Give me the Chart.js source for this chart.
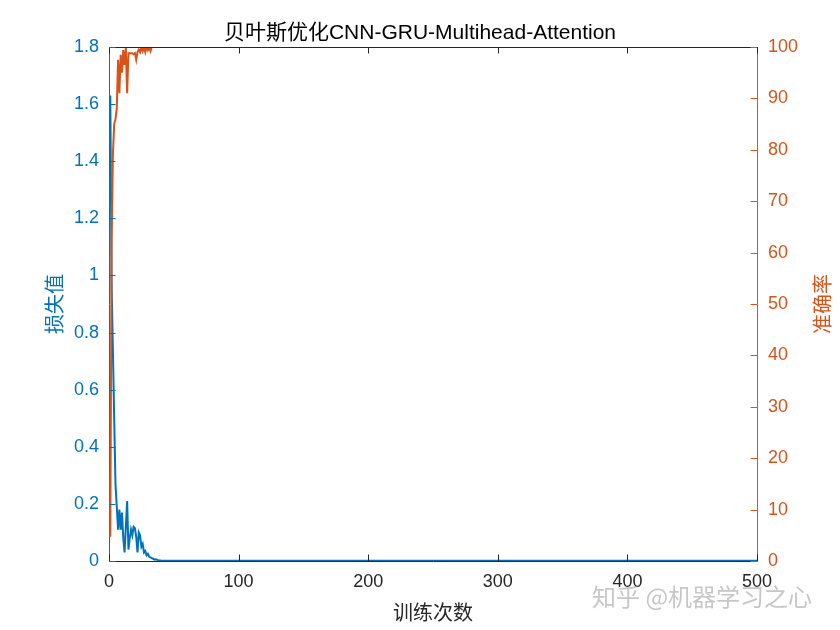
<!DOCTYPE html>
<html><head><meta charset="utf-8">
<script src="https://cdn.jsdelivr.net/npm/chart.js@4.4.0/dist/chart.umd.min.js"></script>
<style>html,body{margin:0;padding:0;background:#fff;}canvas{display:block;}</style>
</head><body>
<canvas id="c" width="840" height="630"></canvas>
<script>
// ---- data ----
const lossIter   = [1,2,3,4,5,6,7,8,9,10,11,12,13,14,15,16,17,18,19,20,21,22,23,24,25,26,27,28,29,30,31,32,33,34,35,36,38,40,45,60,500];
const lossValues = [1.63,0.97,0.74,0.5,0.27,0.19,0.11,0.18,0.11,0.17,0.08,0.03,0.12,0.21,0.04,0.08,0.11,0.09,0.12,0.115,0.085,0.03,0.1,0.09,0.05,0.06,0.03,0.035,0.02,0.025,0.015,0.013,0.01,0.008,0.005,0.006,0.003,0.002,0.001,0.0007,0.0005];
const accIter    = [1,2,3,4,5,6,7,8,9,10,11,12,13,14,15,16,17,18,19,20,21,22,23,24,25,26,27,28,29,30,31,32,33,34,500];
const accValues  = [4.7,62,79,85,86,88,97.5,91,98.5,95,99.4,96.5,99.8,91,98.8,98.8,98.8,98.8,98.6,98.8,97.5,99,99.5,99,100,99.2,100,99,100,99.4,100,99.2,100,100,100];
const xTicks    = [0,100,200,300,400,500];
const lossTicks = [0,0.2,0.4,0.6,0.8,1,1.2,1.4,1.6,1.8];
const accTicks  = [0,10,20,30,40,50,60,70,80,90,100];
const titleText = '贝叶斯优化CNN-GRU-Multihead-Attention';
const xLabel = '训练次数', lossLabel = '损失值', accLabel = '准确率';
const watermark = '知乎 @机器学习之心';

const BLUE = '#0072BD', ORANGE = '#D95319', DARK = '#262626';
const LATIN = "'Liberation Sans', Arial, sans-serif";
const MIX = "'Liberation Sans', 'Noto Sans CJK SC', sans-serif";
const CJK = "'Noto Sans CJK SC', sans-serif";

const decor = {
  id: 'decor',
  afterDraw(chart) {
    const {ctx, chartArea: a, scales} = chart;
    const L = 6.5;
    ctx.save();
    ctx.lineWidth = 1;
    ctx.strokeStyle = DARK;
    ctx.beginPath();
    ctx.moveTo(a.left, Math.round(a.top) + 0.5); ctx.lineTo(a.right, Math.round(a.top) + 0.5);
    xTicks.forEach(v => {
      const p = Math.round(scales.x.getPixelForValue(v)) + 0.5;
      ctx.moveTo(p, a.bottom); ctx.lineTo(p, a.bottom - L);
      ctx.moveTo(p, a.top); ctx.lineTo(p, a.top + L);
    });
    ctx.stroke();
    ctx.strokeStyle = BLUE;
    ctx.beginPath();
    lossTicks.forEach(v => {
      const p = Math.round(scales.y.getPixelForValue(v)) + 0.5;
      ctx.moveTo(a.left, p); ctx.lineTo(a.left + L, p);
    });
    ctx.stroke();
    ctx.strokeStyle = ORANGE;
    ctx.beginPath();
    accTicks.forEach(v => {
      const p = Math.round(scales.y1.getPixelForValue(v)) + 0.5;
      ctx.moveTo(a.right, p); ctx.lineTo(a.right - L, p);
    });
    ctx.stroke();
    // right axis label (reads bottom to top)
    ctx.save();
    ctx.translate(822, (a.top + a.bottom) / 2);
    ctx.rotate(-Math.PI / 2);
    ctx.fillStyle = ORANGE;
    ctx.font = "20px " + CJK;
    ctx.textAlign = 'center'; ctx.textBaseline = 'middle';
    ctx.fillText(accLabel, 0, 0);
    ctx.restore();
    // watermark
    ctx.fillStyle = 'rgba(175,175,175,0.7)';
    ctx.font = "24px " + CJK;
    ctx.textAlign = 'left'; ctx.textBaseline = 'middle';
    ctx.fillText(watermark, 592, 597);
    ctx.restore();
  }
};

function setTicks(arr) {
  return scale => { scale.ticks = arr.map(v => ({value: v})); };
}
const plainLabel = v => String(v);

new Chart(document.getElementById('c'), {
  type: 'line',
  data: {
    datasets: [
      {
        label: accLabel, yAxisID: 'y1',
        data: accIter.map((x, i) => ({x, y: accValues[i]})),
        borderColor: ORANGE, borderWidth: 2, pointRadius: 0, tension: 0, fill: false
      },
      {
        label: lossLabel, yAxisID: 'y',
        data: lossIter.map((x, i) => ({x, y: lossValues[i]})),
        borderColor: BLUE, borderWidth: 2, pointRadius: 0, tension: 0, fill: false
      }
    ]
  },
  options: {
    responsive: false,
    animation: false,
    layout: {padding: 0},
    plugins: {
      legend: {display: false},
      tooltip: {enabled: false},
      title: {
        display: true, text: titleText, color: '#000',
        font: {family: MIX, size: 21, weight: 'normal', lineHeight: 1.2},
        padding: {top: 21, bottom: 0.8}
      }
    },
    scales: {
      x: {
        type: 'linear', position: 'bottom', min: 0, max: 500,
        afterBuildTicks: setTicks(xTicks),
        afterFit: s => { s.height = 69; },
        grid: {drawOnChartArea: false, drawTicks: false},
        border: {color: DARK, width: 1},
        ticks: {color: DARK, padding: 10, font: {family: LATIN, size: 18}, maxRotation: 0, callback: plainLabel},
        title: {display: true, text: xLabel, color: DARK,
                font: {family: CJK, size: 20, lineHeight: 1.2}, padding: {top: 0, bottom: 6}}
      },
      y: {
        type: 'linear', position: 'left', min: 0, max: 1.8,
        afterBuildTicks: setTicks(lossTicks),
        afterFit: s => { s.width = 109; },
        grid: {drawOnChartArea: false, drawTicks: false},
        border: {color: BLUE, width: 1},
        ticks: {color: BLUE, padding: 10, font: {family: LATIN, size: 18}, callback: plainLabel},
        title: {display: true, text: lossLabel, color: BLUE,
                font: {family: CJK, size: 20, lineHeight: 1.2}, padding: {top: 42, bottom: 0}}
      },
      y1: {
        type: 'linear', position: 'right', min: 0, max: 100,
        afterBuildTicks: setTicks(accTicks),
        afterFit: s => { s.width = 83; },
        grid: {drawOnChartArea: false, drawTicks: false},
        border: {color: ORANGE, width: 1},
        ticks: {color: ORANGE, padding: 11, font: {family: LATIN, size: 18}, callback: plainLabel}
      }
    }
  },
  plugins: [decor]
});
</script>
</body></html>
